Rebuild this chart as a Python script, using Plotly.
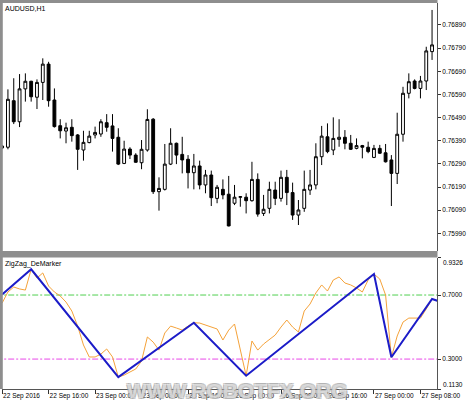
import plotly.graph_objects as go

# ---------------- data ----------------
bars = list(range(75))
opens = [0.76359, 0.76362, 0.76563, 0.76472, 0.76614, 0.76647, 0.76578, 0.76642, 0.76721, 0.76566,
         0.76455, 0.76432, 0.76448, 0.76415, 0.76350, 0.76382, 0.76415, 0.76419, 0.76468, 0.76454,
         0.76405, 0.76292, 0.76354, 0.76328, 0.76295, 0.76350, 0.76483, 0.76170, 0.76180, 0.76289,
         0.76379, 0.76331, 0.76310, 0.76252, 0.76281, 0.76199, 0.76242, 0.76141, 0.76180, 0.76159,
         0.76120, 0.76146, 0.76146, 0.76131, 0.76223, 0.76076, 0.76098, 0.76177, 0.76141, 0.76232,
         0.76166, 0.76069, 0.76098, 0.76177, 0.76199, 0.76321, 0.76407, 0.76350, 0.76396, 0.76405,
         0.76379, 0.76357, 0.76369, 0.76362, 0.76318, 0.76357, 0.76338, 0.76307, 0.76249, 0.76418,
         0.76595, 0.76648, 0.76616, 0.76648, 0.76775]
highs = [0.76372, 0.76612, 0.76660, 0.76678, 0.76681, 0.76649, 0.76655, 0.76746, 0.76731, 0.76616,
         0.76483, 0.76468, 0.76483, 0.76419, 0.76433, 0.76433, 0.76451, 0.76483, 0.76505, 0.76505,
         0.76444, 0.76390, 0.76362, 0.76336, 0.76393, 0.76526, 0.76488, 0.76232, 0.76376, 0.76444,
         0.76382, 0.76407, 0.76328, 0.76333, 0.76304, 0.76264, 0.76261, 0.76199, 0.76223, 0.76238,
         0.76199, 0.76151, 0.76163, 0.76299, 0.76249, 0.76156, 0.76213, 0.76213, 0.76261, 0.76264,
         0.76209, 0.76134, 0.76261, 0.76264, 0.76379, 0.76454, 0.76465, 0.76491, 0.76483, 0.76436,
         0.76415, 0.76400, 0.76372, 0.76386, 0.76372, 0.76372, 0.76376, 0.76328, 0.76511, 0.76623,
         0.76681, 0.76655, 0.76670, 0.76796, 0.76955]
lows = [0.76354, 0.76353, 0.76462, 0.76449, 0.76559, 0.76559, 0.76527, 0.76566, 0.76537, 0.76447,
        0.76400, 0.76379, 0.76386, 0.76264, 0.76304, 0.76379, 0.76400, 0.76407, 0.76429, 0.76343,
        0.76285, 0.76289, 0.76311, 0.76295, 0.76267, 0.76343, 0.76160, 0.76088, 0.76175, 0.76285,
        0.76289, 0.76249, 0.76184, 0.76180, 0.76180, 0.76163, 0.76108, 0.76120, 0.76137, 0.76020,
        0.76112, 0.76105, 0.76076, 0.76127, 0.76062, 0.76065, 0.76076, 0.76112, 0.76127, 0.76112,
        0.76048, 0.76026, 0.76083, 0.76156, 0.76180, 0.76285, 0.76336, 0.76328, 0.76364, 0.76353,
        0.76350, 0.76353, 0.76314, 0.76336, 0.76315, 0.76333, 0.76296, 0.76108, 0.76203, 0.76386,
        0.76573, 0.76612, 0.76573, 0.76609, 0.76739]
closes = [0.76367, 0.76569, 0.76472, 0.76614, 0.76647, 0.76580, 0.76642, 0.76721, 0.76563, 0.76451,
          0.76433, 0.76446, 0.76412, 0.76353, 0.76383, 0.76410, 0.76426, 0.76472, 0.76448, 0.76400,
          0.76289, 0.76354, 0.76328, 0.76297, 0.76353, 0.76482, 0.76170, 0.76184, 0.76289, 0.76379,
          0.76328, 0.76307, 0.76252, 0.76281, 0.76199, 0.76242, 0.76144, 0.76189, 0.76156, 0.76022,
          0.76146, 0.76148, 0.76131, 0.76223, 0.76073, 0.76094, 0.76180, 0.76141, 0.76232, 0.76166,
          0.76069, 0.76091, 0.76180, 0.76199, 0.76321, 0.76410, 0.76343, 0.76400, 0.76405, 0.76379,
          0.76353, 0.76369, 0.76362, 0.76343, 0.76357, 0.76336, 0.76299, 0.76249, 0.76418, 0.76595,
          0.76645, 0.76616, 0.76648, 0.76778, 0.76804]

dem_idx = list(range(76))
demarker = [0.650, 0.719, 0.750, 0.738, 0.731, 0.861, 0.806, 0.838, 0.756, 0.719,
            0.694, 0.656, 0.600, 0.506, 0.388, 0.313, 0.313, 0.331, 0.363, 0.313,
            0.1875, 0.200, 0.219, 0.238, 0.288, 0.438, 0.406, 0.356, 0.463, 0.506,
            0.494, 0.481, 0.506, 0.527, 0.525, 0.513, 0.500, 0.488, 0.419, 0.481,
            0.519, 0.356, 0.196, 0.413, 0.356, 0.394, 0.425, 0.450, 0.500, 0.544,
            0.500, 0.469, 0.600, 0.644, 0.713, 0.763, 0.725, 0.794, 0.813, 0.775,
            0.763, 0.744, 0.719, 0.794, 0.831, 0.800, 0.700, 0.311, 0.444, 0.531,
            0.556, 0.556, 0.556, 0.613, 0.675, 0.663]

zz_idx = [0, 5, 20, 33, 42, 64, 67, 74, 75]
zz_val = [0.704, 0.861, 0.1875, 0.527, 0.196, 0.831, 0.311, 0.675, 0.663]

levels = [0.7, 0.3]
level_colors = ["#4fcf4f", "#e848e8"]

price_ticks = [0.75990, 0.76090, 0.76190, 0.76290, 0.76390, 0.76490, 0.76590, 0.76690, 0.76790, 0.76890]
price_range = [0.759137, 0.76985]
ind_range = [0.1130, 0.9326]
ind_ticks = [0.3, 0.7]

time_idx = [0, 8, 16, 24, 32, 40, 48, 56, 64, 72]
time_labels = ["22 Sep 2016", "22 Sep 16:00", "23 Sep 00:00", "23 Sep 08:00", "23 Sep 16:00",
               "26 Sep 00:00", "26 Sep 08:00", "26 Sep 16:00", "27 Sep 00:00", "27 Sep 08:00"]
x_range = [-0.02, 74.85]

FONT = "Liberation Sans, Arial, sans-serif"

# ---------------- figure ----------------
fig = go.Figure()

fig.add_trace(go.Candlestick(
    x=bars, open=opens, high=highs, low=lows, close=closes,
    increasing=dict(line=dict(color="black", width=1), fillcolor="white"),
    decreasing=dict(line=dict(color="black", width=1), fillcolor="black"),
    whiskerwidth=0, xaxis="x", yaxis="y", showlegend=False, hoverinfo="skip"))

for lv, col in zip(levels, level_colors):
    fig.add_trace(go.Scatter(x=[x_range[0] - 1, x_range[1] + 1], y=[lv, lv], mode="lines",
                             line=dict(color=col, width=1, dash="6px,2px,2px,2px"),
                             xaxis="x2", yaxis="y2", showlegend=False, hoverinfo="skip"))

fig.add_trace(go.Scatter(x=dem_idx, y=demarker, mode="lines",
                         line=dict(color="#f4a23a", width=1),
                         xaxis="x2", yaxis="y2", showlegend=False, hoverinfo="skip"))
fig.add_trace(go.Scatter(x=zz_idx, y=zz_val, mode="lines",
                         line=dict(color="#1c1cc8", width=2),
                         xaxis="x2", yaxis="y2", showlegend=False, hoverinfo="skip"))

W, H = 474, 403
ml, mr, mt, mb = 2, 37, 3, 14
ph = H - mt - mb
main_bottom = (H - mb - 251) / ph
ind_top = (H - mb - 257.8) / ph

axis_font = dict(family=FONT, size=6.5, color="black")

fig.update_layout(
    width=W, height=H,
    margin=dict(l=ml, r=mr, t=mt, b=mb, pad=0, autoexpand=False),
    paper_bgcolor="white", plot_bgcolor="white",
    font=dict(family=FONT, size=7, color="black"),
    boxgap=0.3,
    xaxis=dict(domain=[0, 1], range=x_range, anchor="y", showticklabels=False,
               showgrid=False, zeroline=False, ticks="", rangeslider=dict(visible=False),
               automargin=False, fixedrange=True),
    xaxis2=dict(domain=[0, 1], range=x_range, anchor="y2", matches="x",
                tickmode="array", tickvals=time_idx, ticktext=time_labels, tickangle=0,
                ticklabelposition="outside right", ticks="outside", ticklen=4,
                tickcolor="#333", tickfont=axis_font, showgrid=False, zeroline=False,
                showline=True, linecolor="#555", linewidth=1, automargin=False),
    yaxis=dict(domain=[main_bottom, 1], range=price_range, side="right",
               tickmode="array", tickvals=price_ticks,
               ticktext=["%.5f" % v for v in price_ticks],
               ticks="outside", ticklen=3, tickcolor="#333", tickfont=axis_font,
               showgrid=False, zeroline=False, showline=True, linecolor="#555", linewidth=1,
               automargin=False),
    yaxis2=dict(domain=[0, ind_top], range=ind_range, side="right",
                tickmode="array", tickvals=[ind_range[0]] + ind_ticks + [ind_range[1]],
                ticktext=[""] + ["%.4f" % v for v in ind_ticks] + [""],
                ticks="outside", ticklen=3, tickcolor="#333", tickfont=axis_font,
                showgrid=False, zeroline=False, showline=True, linecolor="#555", linewidth=1,
                automargin=False),
)

annotations = [
    dict(text="AUDUSD,H1", xref="paper", yref="paper", x=0.005, y=1.0, xanchor="left",
         yanchor="top", showarrow=False, font=dict(family=FONT, size=7, color="black"),
         borderpad=0, yshift=-1),
    dict(text="ZigZag_DeMarker", xref="paper", yref="paper", x=0.005, y=ind_top,
         xanchor="left", yanchor="top", showarrow=False,
         font=dict(family=FONT, size=7, color="black"), borderpad=0, yshift=-1),
    dict(text="%.4f" % ind_range[1], xref="paper", yref="y2", x=1, y=ind_range[1],
         xanchor="left", yanchor="top", xshift=5, showarrow=False, font=axis_font, borderpad=0),
    dict(text="%.4f" % ind_range[0], xref="paper", yref="y2", x=1, y=ind_range[0],
         xanchor="left", yanchor="bottom", xshift=5, showarrow=False, font=axis_font, borderpad=0),
    dict(text="WWW.ROBOTFX.ORG", xref="paper", yref="paper", x=0.541, y=-0.004,
         xanchor="center", yanchor="middle", showarrow=False,
         font=dict(family="Liberation Sans, Arial, sans-serif", size=21, weight="bold",
                   color="rgba(255,255,255,0.55)",
                   shadow="-1px -1px 0 #a0a0a0, 1px -1px 0 #a0a0a0, -1px 1px 0 #a0a0a0, 1px 1px 0 #a0a0a0")),
]
fig.update_layout(annotations=annotations)

grey = "#8e8e8e"
def px_x(p):
    return (p - ml) / (W - ml - mr)
def px_y(p):
    return (H - mb - p) / ph

shapes = [
    dict(type="rect", xref="paper", yref="paper", x0=px_x(0), x1=px_x(437.5),
         y0=px_y(3), y1=px_y(0), fillcolor=grey, line=dict(width=0), layer="above"),
    dict(type="rect", xref="paper", yref="paper", x0=px_x(0), x1=px_x(2.8),
         y0=px_y(389), y1=px_y(0), fillcolor=grey, line=dict(width=0), layer="above"),
    dict(type="rect", xref="paper", yref="paper", x0=px_x(0), x1=px_x(437.5),
         y0=px_y(257.5), y1=px_y(251), fillcolor=grey, line=dict(width=0), layer="above"),
]
fig.update_layout(shapes=shapes)

fig.write_html("out.html", config={"displayModeBar": False},
               post_script="document.body.style.margin='0';document.body.style.overflow='hidden';")
